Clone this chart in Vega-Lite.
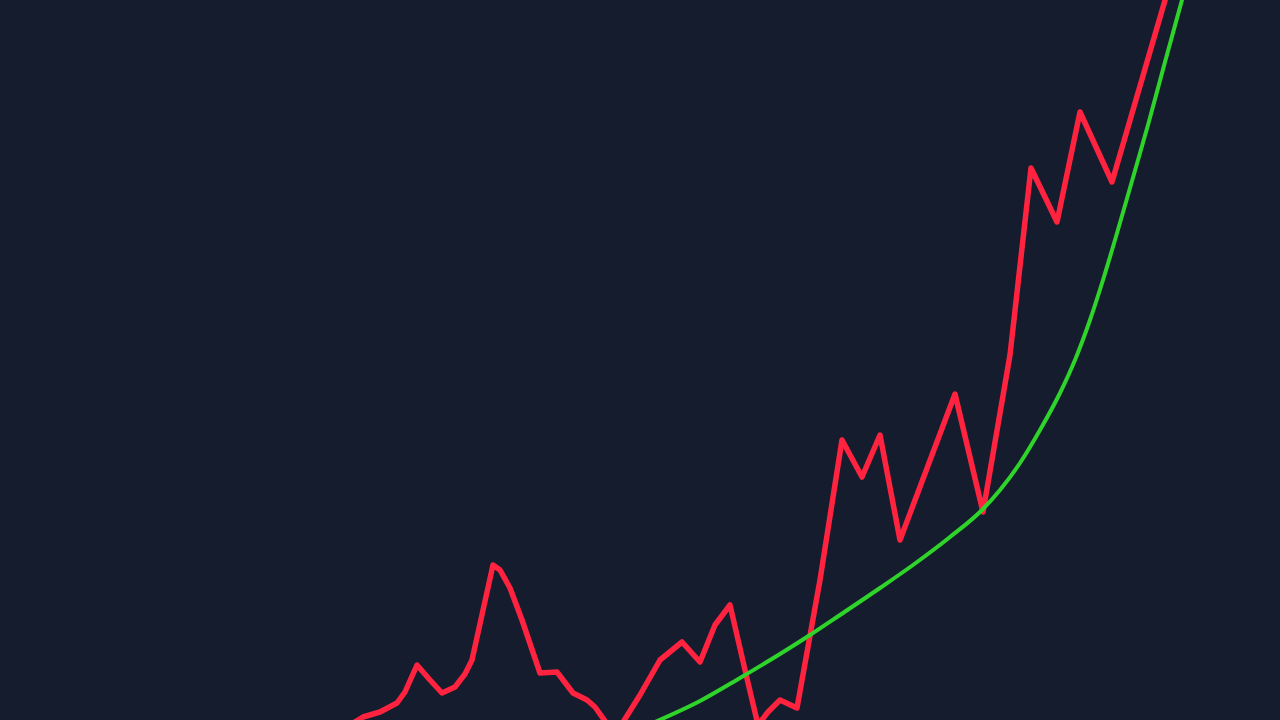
{
  "$schema": "https://vega.github.io/schema/vega-lite/v6.json",
  "width": 1280,
  "height": 720,
  "padding": 0,
  "autosize": {"type": "fit", "contains": "padding"},
  "background": "#151c2d",
  "config": {"view": {"stroke": null}},
  "datasets": {
    "price": [
      {"x": 350, "y": -5}, {"x": 363, "y": 3}, {"x": 380, "y": 8}, {"x": 397, "y": 17},
      {"x": 405, "y": 28}, {"x": 417, "y": 55}, {"x": 430, "y": 40}, {"x": 442, "y": 27},
      {"x": 455, "y": 33}, {"x": 465, "y": 46}, {"x": 472, "y": 60}, {"x": 493, "y": 155},
      {"x": 500, "y": 150}, {"x": 510, "y": 132}, {"x": 522, "y": 100}, {"x": 540, "y": 47},
      {"x": 557, "y": 48}, {"x": 573, "y": 27}, {"x": 587, "y": 20}, {"x": 595, "y": 13},
      {"x": 615, "y": -15}, {"x": 640, "y": 25}, {"x": 660, "y": 60}, {"x": 682, "y": 78},
      {"x": 700, "y": 58}, {"x": 715, "y": 95}, {"x": 730, "y": 115}, {"x": 745, "y": 50},
      {"x": 758, "y": -5}, {"x": 768, "y": 8}, {"x": 780, "y": 20}, {"x": 797, "y": 12},
      {"x": 820, "y": 140}, {"x": 842, "y": 280}, {"x": 862, "y": 243}, {"x": 880, "y": 285},
      {"x": 900, "y": 180}, {"x": 955, "y": 326}, {"x": 983, "y": 208},
      {"x": 1010, "y": 365}, {"x": 1031, "y": 552}, {"x": 1057, "y": 498}, {"x": 1080, "y": 608},
      {"x": 1112, "y": 538}, {"x": 1168, "y": 730}
    ],
    "trend": [
      {"x": 655, "y": -2}, {"x": 700, "y": 19}, {"x": 740, "y": 42}, {"x": 780, "y": 66},
      {"x": 810, "y": 85}, {"x": 840, "y": 105}, {"x": 880, "y": 132}, {"x": 913, "y": 155},
      {"x": 950, "y": 183}, {"x": 982, "y": 210}, {"x": 1000, "y": 230}, {"x": 1020, "y": 257},
      {"x": 1040, "y": 290}, {"x": 1060, "y": 327}, {"x": 1075, "y": 360}, {"x": 1090, "y": 400},
      {"x": 1103, "y": 440}, {"x": 1115, "y": 480}, {"x": 1130, "y": 532}, {"x": 1148, "y": 595},
      {"x": 1165, "y": 658}, {"x": 1182, "y": 720}, {"x": 1185, "y": 731}
    ]
  },
  "layer": [
    {
      "data": {"name": "price"},
      "mark": {"type": "line", "color": "#ff2340", "strokeWidth": 5.5, "clip": true, "strokeJoin": "round"},
      "encoding": {
        "x": {"field": "x", "type": "quantitative", "scale": {"domain": [0, 1280], "nice": false, "zero": false}, "axis": null},
        "y": {"field": "y", "type": "quantitative", "scale": {"domain": [0, 720], "nice": false, "zero": false}, "axis": null}
      }
    },
    {
      "data": {"name": "trend"},
      "mark": {"type": "line", "color": "#2fd42a", "strokeWidth": 4, "clip": true, "interpolate": "monotone"},
      "encoding": {
        "x": {"field": "x", "type": "quantitative", "scale": {"domain": [0, 1280], "nice": false, "zero": false}, "axis": null},
        "y": {"field": "y", "type": "quantitative", "scale": {"domain": [0, 720], "nice": false, "zero": false}, "axis": null}
      }
    }
  ]
}
